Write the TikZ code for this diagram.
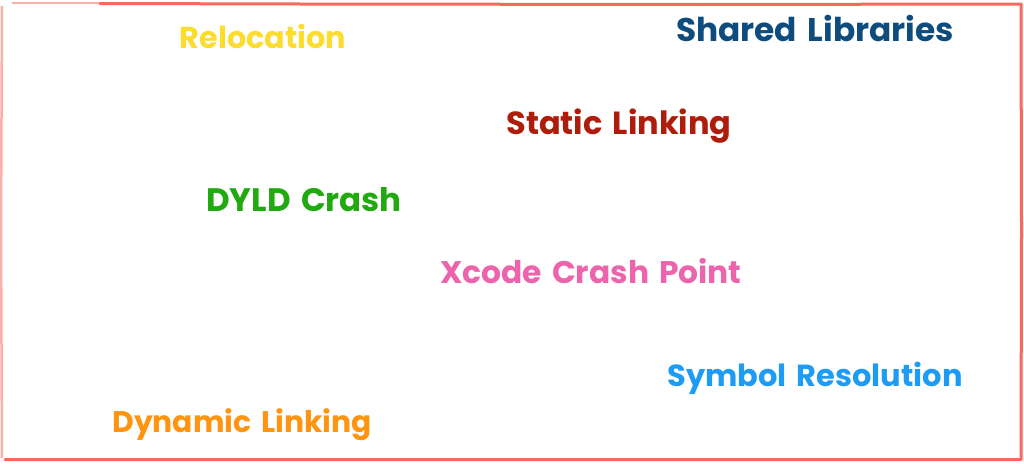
\documentclass[tikz,border=0pt]{standalone}
\usepackage{fontspec}
\newfontfamily\hand[WordSpace=1.5]{Poppins}
\definecolor{frameC}{HTML}{F8695A}
\definecolor{frameL}{HTML}{FBB0A8}
\definecolor{cYel}{HTML}{FCDC2E}
\definecolor{cNavy}{HTML}{0D4C7C}
\definecolor{cRed}{HTML}{AE1D0B}
\definecolor{cGrn}{HTML}{20AA10}
\definecolor{cPnk}{HTML}{EC64AC}
\definecolor{cBlu}{HTML}{1E9CF4}
\definecolor{cOrg}{HTML}{FF9410}
\tikzset{lab/.style={font=\hand\bfseries\fontsize{#1}{34}\selectfont,inner sep=0pt,anchor=center}}
\begin{document}
\begin{tikzpicture}[x=1pt,y=-1pt]
\useasboundingbox (0,0) rectangle (1024,463);
\fill[white] (0,0) rectangle (1024,463);
\draw[frameL,line width=2pt] (12,3) -- (100,3);
\draw[frameL,line width=2.5pt] (2,6) -- (1,230) -- (2,458);
\draw[frameC,line width=3pt,line cap=round] (100,3.5) -- (300,4) -- (700,4.5) -- (1021,4);
\draw[frameC,line width=3pt,line join=round,line cap=round] (1021,4) -- (1021.5,230) -- (1021,459.5) -- (500,459.5) -- (5,459.5);
\node[lab=30.3,text=cYel] (a) at (263,36) {Relocation};
\node[lab=32.8,text=cNavy] (b) at (815,28.5) {Shared Libraries};
\node[lab=32,text=cRed] (c) at (619,126) {Static Linking};
\node[lab=32.5,text=cGrn] (d) at (304,200) {DYLD Crash};
\node[lab=31.3,text=cPnk] (e) at (591,271) {Xcode Crash Point};
\node[lab=30.5,text=cBlu] (f) at (815,378) {Symbol Resolution};
\node[lab=29.8,text=cOrg] (g) at (242,425) {Dynamic Linking};
\end{tikzpicture}
\end{document}
